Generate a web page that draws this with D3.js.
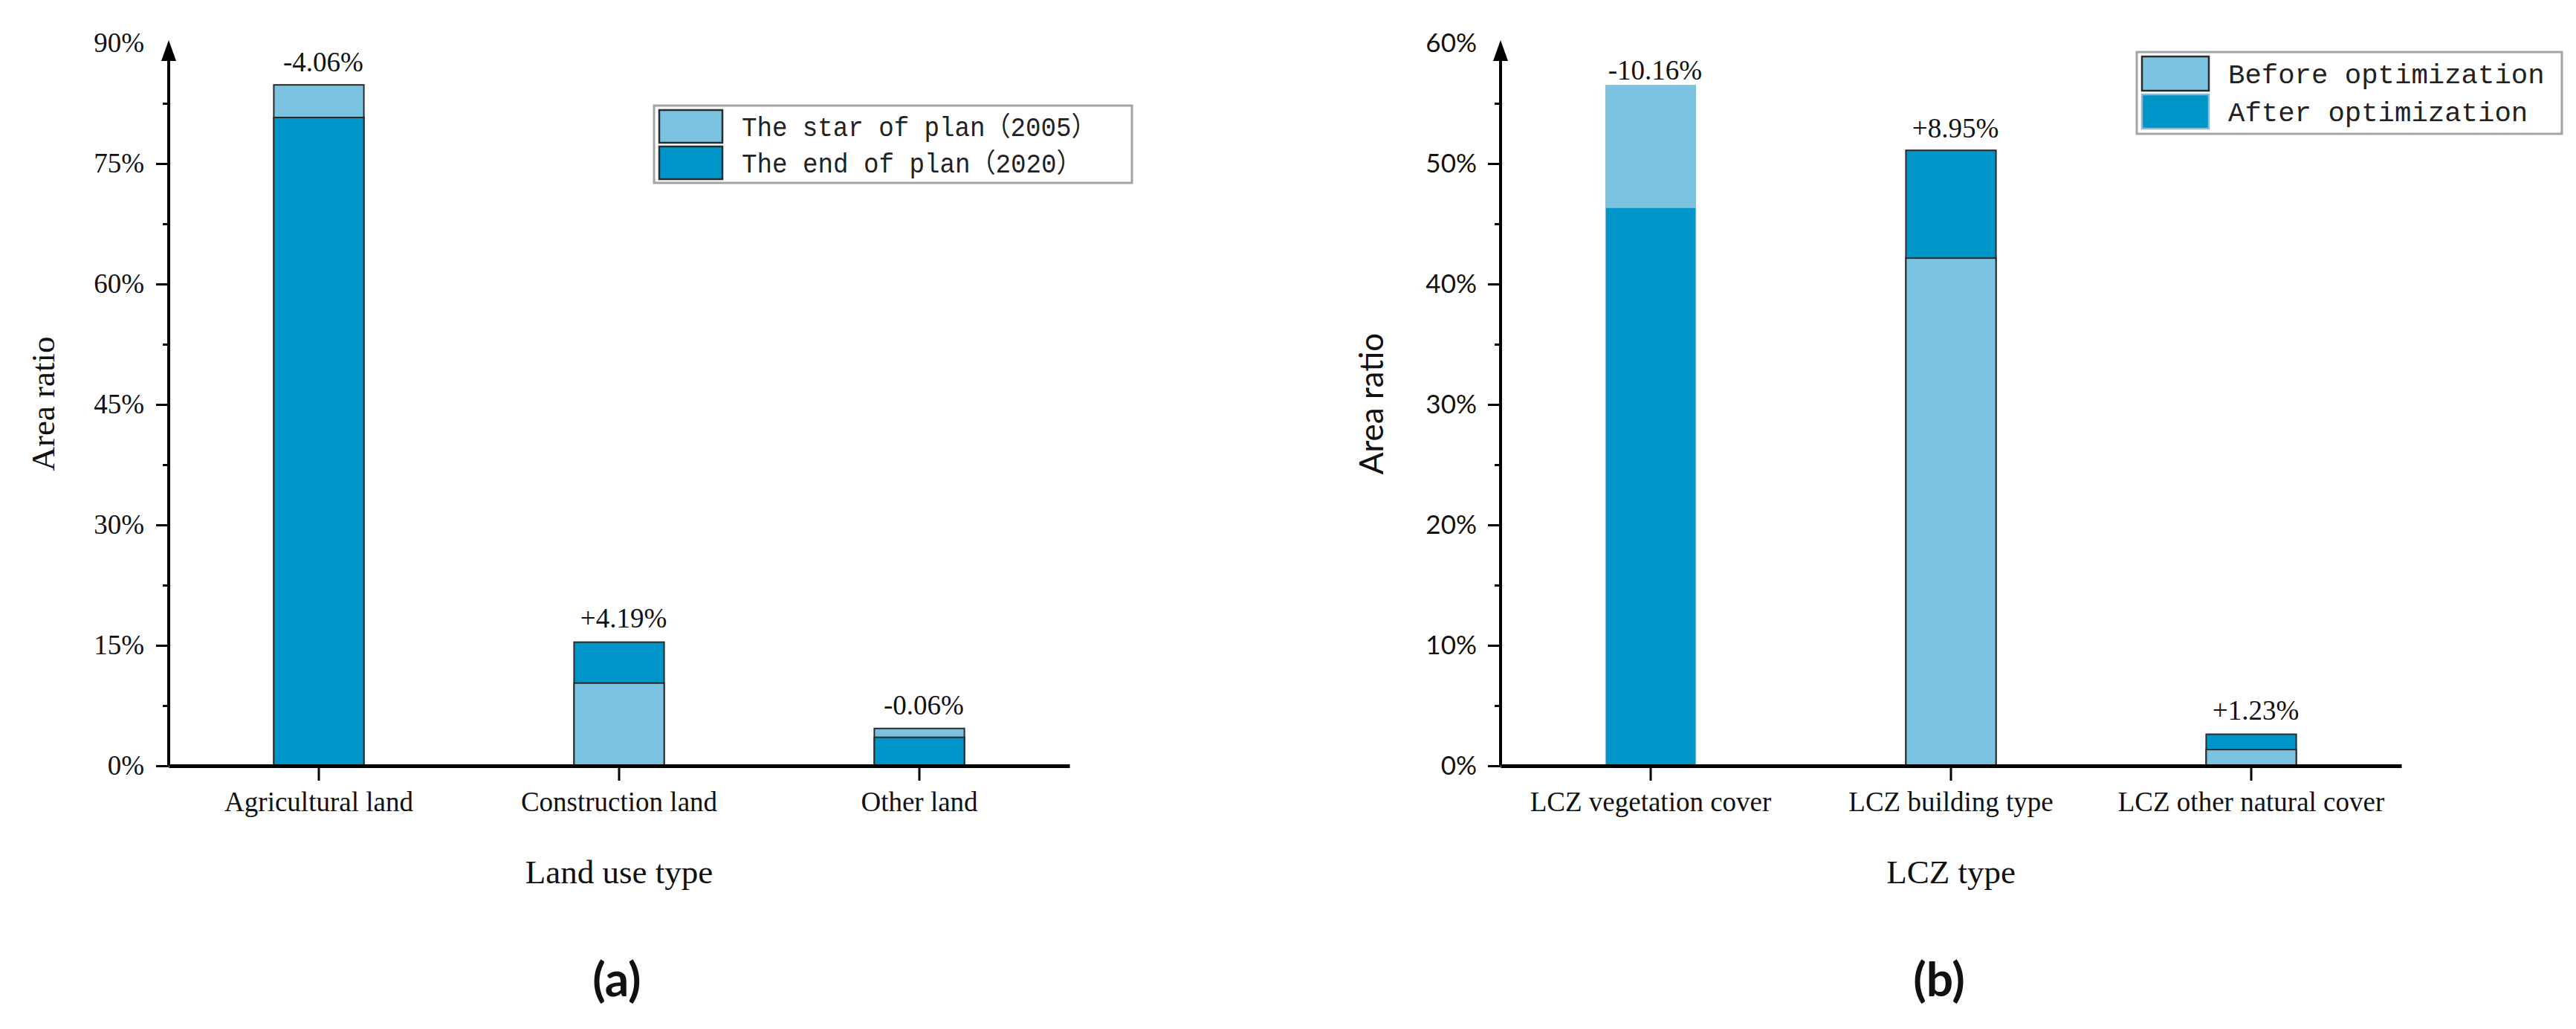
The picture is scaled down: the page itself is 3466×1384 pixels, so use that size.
<!DOCTYPE html>
<html>
<head>
    <title>Area ratio by land use type and LCZ type</title>
    <script src="https://d3js.org/d3.v7.min.js"></script>
    <style>
        body { margin: 0; background: #fff; }
        text { font-family: "Liberation Serif", "Times New Roman", serif; fill: #111; }
        .tick text { font-size: 37px; }
        .axis-title { font-size: 45px; }
        .change { font-size: 37px; }
        .sans .y-axis .tick text { font-family: Lato, "Open Sans", sans-serif; font-size: 35px; }
        .sans .y-title { font-family: Lato, "Open Sans", sans-serif; font-size: 44px; }
        .legend text { font-family: "Liberation Mono", "Noto Sans CJK SC", monospace; fill: #222; }
        .panel-tag { font-family: Lato, "Open Sans", sans-serif; font-weight: bold; font-size: 64px; }
    </style>
</head>
<body>
    <svg width="3466" height="1384"></svg>
    <script>
        // (a) land use, start vs end of plan
        var landTypes = ["Agricultural land", "Construction land", "Other land"];
        var landSeries = ["The star of plan\uFF082005\uFF09", "The end of plan\uFF082020\uFF09"];
        var landStart = [84.8, 10.3, 4.65];
        var landEnd = [80.74, 15.4, 3.55];
        var landChange = ["-4.06%", "+4.19%", "-0.06%"];
        var landTicks = [0, 15, 30, 45, 60, 75, 90];

        // (b) LCZ, before vs after optimization
        var lczTypes = ["LCZ vegetation cover", "LCZ building type", "LCZ other natural cover"];
        var lczSeries = ["Before optimization", "After optimization"];
        var lczBefore = [56.5, 42.15, 1.35];
        var lczAfter = [46.34, 51.1, 2.62];
        var lczChange = ["-10.16%", "+8.95%", "+1.23%"];
        var lczTicks = [0, 10, 20, 30, 40, 50, 60];

        var svg = d3.select("svg");
        var baseY = 1030, topY = 58, axisLen = 1212;
        var light = "#7cc2e1", dark = "#0095c9";

        function drawPanel(p) {
            var g = svg.append("g")
                .attr("class", p.cls)
                .attr("transform", "translate(" + p.left + ",0)");
            var ymax = d3.max(p.ticks);

            var x = d3.scaleBand().domain(p.categories).range([0, axisLen])
                .paddingInner(0.7).paddingOuter(0.35);
            var y = d3.scaleLinear().domain([0, ymax]).range([baseY, topY]);
            var color = d3.scaleOrdinal().domain(p.series).range([light, dark]);

            // overlapping bars, the taller one drawn behind
            var pairs = p.categories.map(function(c, i) {
                return [
                    {cat: c, i: i, key: p.series[0], v: p.first[i]},
                    {cat: c, i: i, key: p.series[1], v: p.second[i]}
                ].sort(function(a, b) { return b.v - a.v; });
            });

            g.append("g").selectAll("g")
                .data(pairs)
                .enter().append("g")
                .selectAll("rect")
                .data(function(d) { return d; })
                .enter().append("rect")
                    .attr("x", function(d) { return x(d.cat); })
                    .attr("y", function(d) { return y(d.v); })
                    .attr("width", x.bandwidth())
                    .attr("height", function(d) { return y(0) - y(d.v); })
                    .attr("fill", function(d) { return color(d.key); })
                    .attr("stroke", function(d) { return p.outline[d.i] ? "#2b2b2b" : "#8fb9cc"; })
                    .attr("stroke-width", function(d) { return p.outline[d.i] ? 2 : 1; });

            // change labels above the bars
            g.append("g").selectAll("text")
                .data(p.categories)
                .enter().append("text")
                    .attr("class", "change")
                    .attr("x", function(d) { return x(d) + x.bandwidth() / 2 + 6; })
                    .attr("y", function(d, i) { return y(Math.max(p.first[i], p.second[i])) - p.gap[i]; })
                    .attr("text-anchor", "middle")
                    .text(function(d, i) { return p.change[i]; });

            // y axis: major ticks, minor ticks, line with arrow
            var yAxis = g.append("g")
                .attr("class", "y-axis")
                .call(d3.axisLeft(y).tickValues(p.ticks).tickSize(17).tickSizeOuter(0)
                    .tickPadding(p.yPad).tickFormat(function(d) { return d + "%"; }));
            yAxis.select(".domain").remove();
            yAxis.selectAll(".tick line").attr("stroke-width", 3)
                .filter(function(d) { return d === ymax; }).remove();

            var minor = d3.pairs(p.ticks).map(function(t) { return (t[0] + t[1]) / 2; });
            g.append("g")
                .call(d3.axisLeft(y).tickValues(minor).tickSize(8).tickSizeOuter(0).tickFormat(""))
                .call(function(a) {
                    a.select(".domain").remove();
                    a.selectAll(".tick line").attr("stroke-width", 3);
                });

            g.append("line")
                .attr("x1", 0).attr("x2", 0)
                .attr("y1", y(0)).attr("y2", y(ymax) + 20)
                .attr("stroke", "#000").attr("stroke-width", 4);
            g.append("path")
                .attr("d", "M0," + (y(ymax) - 4) + "L-10," + (y(ymax) + 24) + "L10," + (y(ymax) + 24) + "Z")
                .attr("fill", "#000");

            // x axis
            var xAxis = g.append("g")
                .attr("transform", "translate(0," + y(0) + ")")
                .call(d3.axisBottom(x).tickSize(20).tickSizeOuter(0).tickPadding(15));
            xAxis.select(".domain").attr("stroke-width", 5);
            xAxis.selectAll(".tick line").attr("stroke-width", 3);

            // titles
            g.append("text")
                .attr("class", "axis-title")
                .attr("x", axisLen / 2)
                .attr("y", 1188)
                .attr("text-anchor", "middle")
                .text(p.xTitle);

            g.append("text")
                .attr("class", "axis-title y-title")
                .attr("transform", "translate(" + p.yTitleX + ",543) rotate(-90)")
                .attr("text-anchor", "middle")
                .attr("dy", "0.35em")
                .text("Area ratio");

            g.append("text")
                .attr("class", "panel-tag")
                .attr("x", axisLen / 2 + p.tagShift)
                .attr("y", 1340)
                .attr("text-anchor", "middle")
                .text(p.tag);

            // legend
            var lg = g.append("g")
                .attr("class", "legend")
                .attr("transform", "translate(" + p.legend.x + "," + p.legend.y + ")");
            lg.append("rect")
                .attr("width", p.legend.w)
                .attr("height", p.legend.h)
                .attr("fill", "#fff")
                .attr("stroke", "#a3a3a3")
                .attr("stroke-width", 3);
            var item = lg.selectAll("g")
                .data(p.series)
                .enter().append("g")
                .attr("transform", function(d, i) { return "translate(7," + (6 + i * p.legend.step) + ")"; });
            item.append("rect")
                .attr("width", p.legend.sw)
                .attr("height", p.legend.step - 5)
                .attr("fill", color)
                .attr("stroke", function(d, i) { return i === 0 || p.cls !== "sans" ? "#2b2b2b" : "#8fb9cc"; })
                .attr("stroke-width", 2.5);
            item.append("text")
                .attr("x", p.legend.tx)
                .attr("y", (p.legend.step - 5) / 2)
                .attr("dy", "0.36em")
                .style("font-size", p.legend.fs + "px")
                .attr("textLength", function(d) {
                    var units = Array.from(d).reduce(function(s, c) {
                        return s + (c.charCodeAt(0) > 255 ? 2 : 1);
                    }, 0);
                    return units * p.legend.unit;
                })
                .attr("lengthAdjust", "spacingAndGlyphs")
                .text(function(d) { return d; });
        }

        drawPanel({
            cls: "serif", left: 227, categories: landTypes, series: landSeries,
            first: landStart, second: landEnd, change: landChange, ticks: landTicks,
            outline: [true, true, true], gap: [18, 20, 19], yPad: 16,
            xTitle: "Land use type", yTitleX: -170, tag: "(a)", tagShift: -3,
            legend: {x: 653, y: 142, w: 643, h: 104, step: 49, sw: 85, tx: 111, unit: 19.9, fs: 36}
        });

        drawPanel({
            cls: "sans", left: 2019, categories: lczTypes, series: lczSeries,
            first: lczBefore, second: lczAfter, change: lczChange, ticks: lczTicks,
            outline: [false, true, true], gap: [8, 17, 20], yPad: 15,
            xTitle: "LCZ type", yTitleX: -173, tag: "(b)", tagShift: -16,
            legend: {x: 856, y: 70, w: 572, h: 110, step: 51, sw: 90, tx: 116, unit: 22.4, fs: 37}
        });
    </script>
</body>
</html>
